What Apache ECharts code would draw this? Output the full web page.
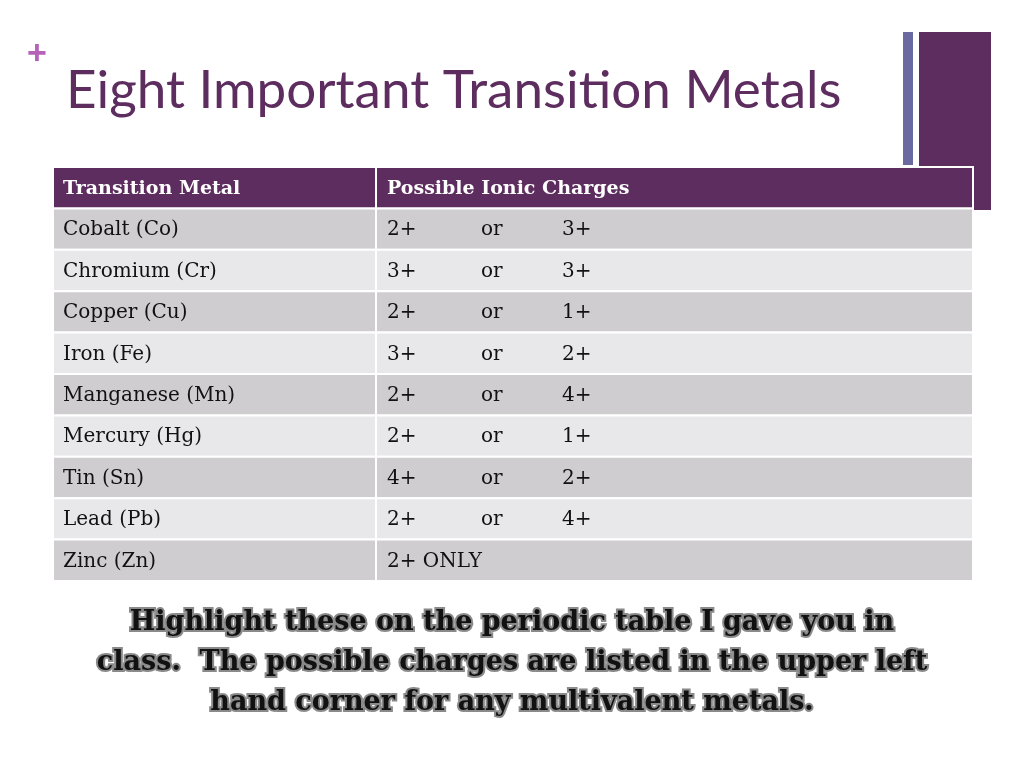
<!DOCTYPE html>
<html><head><meta charset="utf-8">
<script src="https://cdn.jsdelivr.net/npm/echarts@6/dist/echarts.min.js"></script>
<style>html,body{margin:0;padding:0;background:#fff}#c{width:1024px;height:768px}</style>
</head><body><div id="c"></div>
<script>
const headers = ["Transition Metal", "Possible Ionic Charges"];
const metals = ["Cobalt (Co)","Chromium (Cr)","Copper (Cu)","Iron (Fe)","Manganese (Mn)","Mercury (Hg)","Tin (Sn)","Lead (Pb)","Zinc (Zn)"];
const chargeA = ["2+","3+","2+","3+","2+","2+","4+","2+","2+ ONLY"];
const chargeB = ["3+","3+","1+","2+","4+","1+","2+","4+",null];
const rows = ["h"].concat(metals.map((m,i)=>"r"+i));
const colEdges = [0, 323, 920];

const data = rows.map((r,i)=>[i]);
const chart = echarts.init(document.getElementById('c'));
const font = '"DejaVu Serif", serif';
const note = 'Highlight these on the periodic table I gave you in\nclass.  The possible charges are listed in the upper left\nhand corner for any multivalent metals.';
chart.setOption({
  animation:false,
  grid:{left:53,right:51,top:167,bottom:187},
  xAxis:{type:'value',min:0,max:920,show:false},
  yAxis:{type:'category',data:rows,inverse:true,show:false},
  graphic:[
    {type:'rect',z:-1,shape:{x:903,y:32,width:10,height:133},style:{fill:'#6b6aa0'}},
    {type:'rect',z:-1,shape:{x:919,y:32,width:72,height:178},style:{fill:'#5e2d5f'}},
    {type:'text',left:27,top:38,style:{text:'+',fill:'#b463b8',font:'bold 34px "Liberation Sans"'}},
    {type:'text',left:66,top:64,style:{text:'Eight Important Transition Metals',fill:'#5e2d5f',font:'53px "Lato", sans-serif'}},
    {type:'text',z:10,style:{text:note,x:512,y:603,align:'center',verticalAlign:'top',
      fill:'#111',font:'bold 27px "DejaVu Serif", serif',lineHeight:40,
      stroke:'#8a8a8a',lineWidth:4,shadowColor:'#999',shadowBlur:4}}
  ],
  series:[{
    type:'custom',
    data:data,
    renderItem:function(params,api){
      const i = api.value(0);
      const y0 = api.coord([0,i])[1];
      const h = api.size([0,1])[1];
      const top = y0-h/2;
      const children=[];
      const fill = i===0?'#5e2d5f':(i%2===1?'#cfcdd0':'#e8e7ea');
      for(let c=0;c<2;c++){
        const xa=api.coord([colEdges[c],0])[0], xb=api.coord([colEdges[c+1],0])[0];
        children.push({type:'rect',shape:{x:xa,y:top,width:xb-xa,height:h},style:{fill:fill,stroke:'#fff',lineWidth:2}});
      }
      const x1=api.coord([colEdges[0],0])[0]+10, x2=api.coord([colEdges[1],0])[0]+11;
      const ty=y0+1;
      if(i===0){
        children.push({type:'text',style:{text:headers[0],x:x1,y:ty,verticalAlign:'middle',fill:'#fff',font:'bold 19px '+font}});
        children.push({type:'text',style:{text:headers[1],x:x2,y:ty,verticalAlign:'middle',fill:'#fff',font:'bold 19px '+font}});
      } else {
        const k=i-1;
        const st={verticalAlign:'middle',fill:'#111',font:'20px '+font};
        children.push({type:'text',style:Object.assign({text:metals[k],x:x1,y:ty},st)});
        children.push({type:'text',style:Object.assign({text:chargeA[k],x:x2,y:ty},st)});
        if(chargeB[k]){
          children.push({type:'text',style:Object.assign({text:'or',x:x2+94,y:ty},st)});
          children.push({type:'text',style:Object.assign({text:chargeB[k],x:x2+175,y:ty},st)});
        }
      }
      return {type:'group',children:children};
    }
  }]
});
</script></body></html>
